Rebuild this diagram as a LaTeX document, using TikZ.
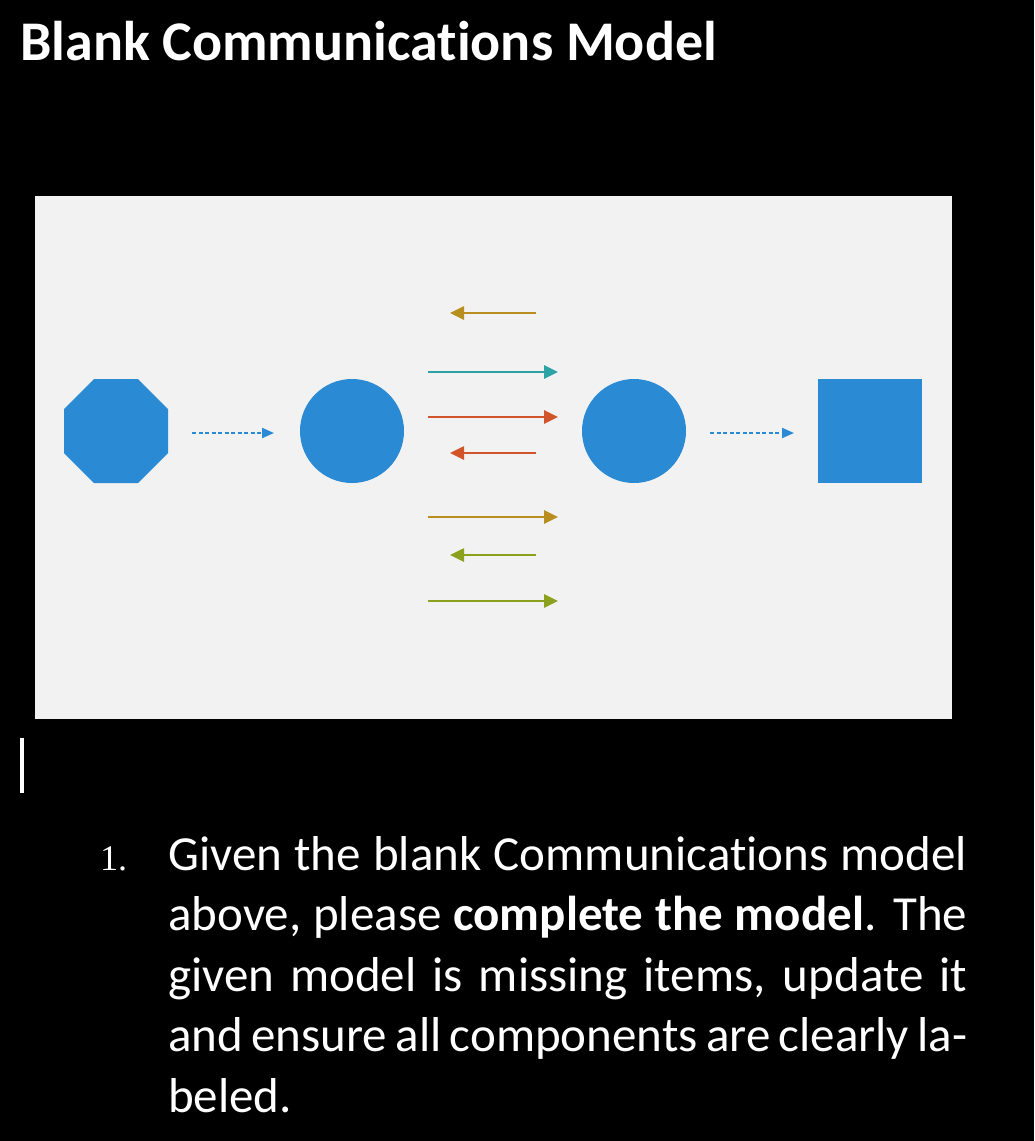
\documentclass[tikz,border=0pt]{standalone}
\usepackage{fontspec}
\setmainfont{Carlito}[RawFeature={-liga;-clig;-dlig}]
\newfontfamily\numfont{Liberation Serif}
\usetikzlibrary{arrows.meta}
\definecolor{sblue}{HTML}{2A8AD4}
\definecolor{gold}{HTML}{B88E1E}
\definecolor{teal2}{HTML}{2EA3A5}
\definecolor{orng}{HTML}{D1542A}
\definecolor{olive}{HTML}{8BA01C}
\definecolor{panel}{HTML}{F2F2F2}
\begin{document}
\begin{tikzpicture}[x=1pt,y=-1pt,
  shp/.style={fill=sblue,draw=none,inner sep=0pt},
  flow/.style={line width=2.6pt,-{Triangle[length=14pt,width=13pt]}},
  dots/.style={sblue,line width=2pt,dash pattern=on 4pt off 2.5pt,-{Triangle[length=12pt,width=10pt]}}]
\useasboundingbox (0,0) rectangle (1034,1141);
\fill[black] (0,0) rectangle (1034,1141);
\node[anchor=base west,text=white,font=\fontsize{56}{60}\selectfont\bfseries,inner sep=0pt] (title) at (20,60) {Blank Communications Model};
\fill[panel] (35,196) rectangle (952,719);
\fill[sblue] (94,379) -- (138,379) -- (168,409) -- (168,453) -- (138,483) -- (94,483) -- (64,453) -- (64,409) -- cycle;
\node[shp,circle,minimum size=104pt] (enc) at (352,431) {};
\node[shp,circle,minimum size=104pt] (dec) at (634,431) {};
\node[shp,rectangle,minimum size=104pt] (dst) at (870,431) {};
\coordinate (d1a) at (192,433); \coordinate (d1b) at (274,433);
\coordinate (d2a) at (710,433); \coordinate (d2b) at (794,433);
\draw[dots] (d1a) -- (d1b);
\draw[dots] (d2a) -- (d2b);
\coordinate (a1) at (536,313); \coordinate (b1) at (450,313);
\coordinate (a2) at (428,372); \coordinate (b2) at (558,372);
\coordinate (a3) at (428,417); \coordinate (b3) at (558,417);
\coordinate (a4) at (536,453); \coordinate (b4) at (450,453);
\coordinate (a5) at (428,517); \coordinate (b5) at (558,517);
\coordinate (a6) at (536,555); \coordinate (b6) at (450,555);
\coordinate (a7) at (428,601); \coordinate (b7) at (558,601);
\draw[flow,draw=gold,fill=gold] (a1) -- (b1);
\draw[flow,draw=teal2,fill=teal2] (a2) -- (b2);
\draw[flow,draw=orng,fill=orng] (a3) -- (b3);
\draw[flow,draw=orng,fill=orng] (a4) -- (b4);
\draw[flow,draw=gold,fill=gold] (a5) -- (b5);
\draw[flow,draw=olive,fill=olive] (a6) -- (b6);
\draw[flow,draw=olive,fill=olive] (a7) -- (b7);
\fill[white] (20,738) rectangle (24,793);
\node[anchor=base west,text=white,font=\numfont\fontsize{36}{40}\selectfont,inner sep=0pt] (num) at (100,870) {1.};
\node[anchor=base west,text=white,inner sep=0pt,text width=799pt,align=justify,
  font=\fontsize{49}{60.5}\selectfont] (txt) at (168,870)
  {\hyphenpenalty=10000\exhyphenpenalty=10000 Given the blank Communications model above, please \textbf{complete the model}. The given model is missing items, update it and ensure all components are clearly labeled.};
\end{tikzpicture}
\end{document}
